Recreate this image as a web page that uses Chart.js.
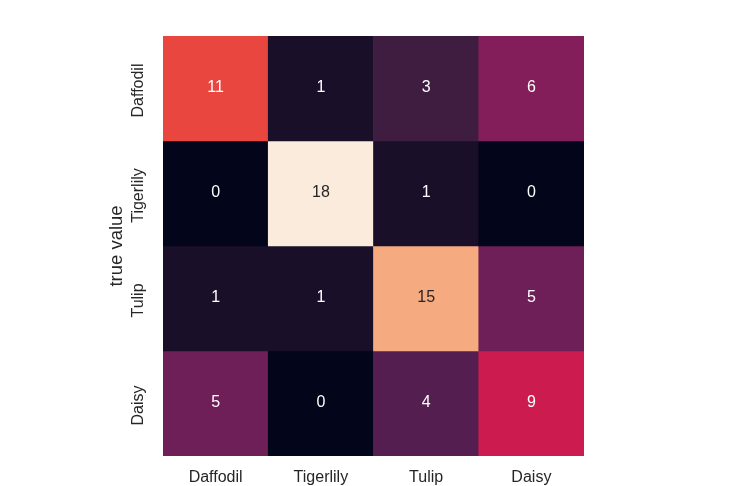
<!DOCTYPE html>
<html>
<head>
<meta charset="utf-8">
<script src="https://cdn.jsdelivr.net/npm/chart.js@4.4.1/dist/chart.umd.min.js"></script>
<style>
    html, body { margin: 0; padding: 0; background: #fff; }
    #wrap { width: 729px; height: 486px; }
</style>
</head>
<body>
<div id="wrap"><canvas id="cm"></canvas></div>
<script>
// Confusion matrix - rows are true values, columns predicted
const flowers = ['Daffodil', 'Tigerlily', 'Tulip', 'Daisy'];
const counts = [
    [11, 1, 3, 6],
    [0, 18, 1, 0],
    [1, 1, 15, 5],
    [5, 0, 4, 9]
];
const yTitle = 'true value';
const vmin = 0;
const vmax = 18;

// rocket colormap, approximate stops
const rocket = [
    [0.0, [3, 5, 26]],
    [0.056, [25, 15, 41]],
    [0.167, [63, 29, 65]],
    [0.222, [85, 30, 80]],
    [0.278, [111, 31, 88]],
    [0.333, [131, 30, 91]],
    [0.5, [203, 27, 79]],
    [0.611, [232, 70, 62]],
    [0.833, [245, 170, 127]],
    [1.0, [250, 235, 221]]
];

function rocketColor(v) {
    const t = Math.min(1, Math.max(0, (v - vmin) / (vmax - vmin)));
    for (let i = 1; i < rocket.length; i++) {
        if (t <= rocket[i][0]) {
            const [t0, c0] = rocket[i - 1];
            const [t1, c1] = rocket[i];
            const f = (t - t0) / (t1 - t0);
            const c = c0.map((a, k) => Math.round(a + (c1[k] - a) * f));
            return 'rgb(' + c.join(',') + ')';
        }
    }
    return 'rgb(250,235,221)';
}

const n = flowers.length;
const datasets = counts.map((row, i) => ({
    label: flowers[i],
    data: row.map(() => [n - 1 - i, n - i]),
    backgroundColor: row.map(v => rocketColor(v)),
    borderWidth: 0,
    grouped: false,
    barPercentage: 1,
    categoryPercentage: 1
}));

const font = "'Liberation Sans', Arial, sans-serif";

// annotations, tick labels and axis title
const annotate = {
    id: 'annotate',
    afterDatasetsDraw(chart) {
        const ctx = chart.ctx;
        const xs = chart.scales.x;
        const ys = chart.scales.y;
        ctx.save();
        ctx.textAlign = 'center';
        ctx.textBaseline = 'middle';
        ctx.font = '16px ' + font;
        counts.forEach((row, i) => {
            const cy = ys.getPixelForValue(n - i - 0.5);
            row.forEach((v, j) => {
                const cx = xs.getPixelForValue(j);
                const t = (v - vmin) / (vmax - vmin);
                ctx.fillStyle = t > 0.7 ? '#262626' : '#ffffff';
                ctx.fillText(String(v), cx, cy - 1);
            });
        });
        ctx.fillStyle = '#262626';
        ctx.font = '16px ' + font;
        // x tick labels
        flowers.forEach((name, j) => {
            ctx.fillText(name, xs.getPixelForValue(j), 478);
        });
        // y tick labels, rotated
        flowers.forEach((name, i) => {
            const cy = ys.getPixelForValue(n - i - 0.5);
            ctx.save();
            ctx.translate(139, cy + 2);
            ctx.rotate(-Math.PI / 2);
            ctx.fillText(name, 0, 0);
            ctx.restore();
        });
        // y axis title
        ctx.font = '18.5px ' + font;
        ctx.save();
        ctx.translate(117, (ys.top + ys.bottom) / 2);
        ctx.rotate(-Math.PI / 2);
        ctx.fillText(yTitle, 0, 0);
        ctx.restore();
        ctx.restore();
    }
};

new Chart(document.getElementById('cm').getContext('2d'), {
    type: 'bar',
    data: { labels: flowers, datasets: datasets },
    options: {
        responsive: true,
        maintainAspectRatio: false,
        animation: false,
        layout: { padding: { left: 163, right: 145, top: 36, bottom: 30 } },
        plugins: {
            legend: { display: false },
            tooltip: { enabled: false }
        },
        scales: {
            x: { display: false },
            y: {
                display: false,
                min: 0,
                max: n
            }
        }
    },
    plugins: [annotate]
});
</script>
</body>
</html>
